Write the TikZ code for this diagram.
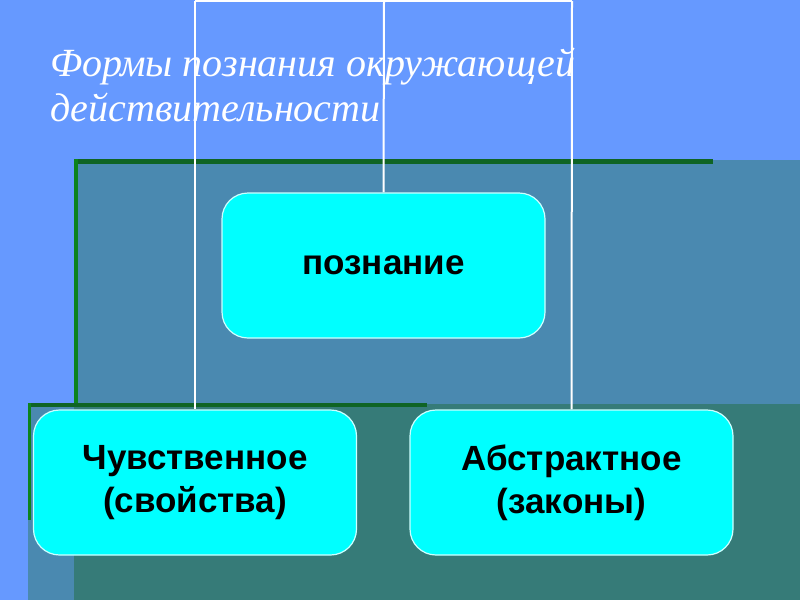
\documentclass[tikz,border=0pt]{standalone}
\usepackage{fontspec}
\setmainfont{Liberation Serif}
\newfontfamily\arialfont{Liberation Sans}
\usetikzlibrary{backgrounds}
\pgfdeclarelayer{bottom}
\pgfsetlayers{bottom,background,main}
\definecolor{bgblue}{HTML}{6699FF}
\definecolor{panelblue}{HTML}{4A89B0}
\definecolor{panelteal}{HTML}{367B78}
\definecolor{edgegreen}{HTML}{0F6424}
\definecolor{boxcyan}{HTML}{00FFFF}
\definecolor{boxedge}{HTML}{CCFFFF}
\tikzset{
  orgbox/.style={draw=boxedge, line width=1.2pt, fill=boxcyan, rounded corners=26pt,
    minimum width=323pt, minimum height=145pt, align=center,
    font=\arialfont\bfseries\fontsize{35}{43}\selectfont, text=black},
  link/.style={draw=white, line width=2pt},
  titletext/.style={font=\itshape\fontsize{40}{48}\selectfont, text=white, inner sep=0pt, anchor=base west}
}
\begin{document}
\begin{tikzpicture}[x=1pt,y=-1pt]
\useasboundingbox (0,0) rectangle (800,600);
\begin{pgfonlayer}{bottom}
\fill[bgblue] (0,0) rectangle (800,600);
\fill[panelblue] (74,160) rectangle (800,600);
\fill[panelblue] (28,404) rectangle (74,600);
\fill[panelteal] (74,404) rectangle (800,600);
\fill[edgegreen] (74,159) rectangle (713,164);
\fill[edgegreen!80!green] (74,159) rectangle (78,404);
\fill[edgegreen] (28,403) rectangle (427,407);
\fill[edgegreen!80!green] (28,403) rectangle (31,520);
\end{pgfonlayer}
% title
\node[titletext] (title1) at (50,76) {Формы познания окружающей};
\node[titletext] (title2) at (50,121) {действительности};
% boxes
\coordinate (top) at (384,1);
\coordinate (tl) at (195,1);
\coordinate (tr) at (572,1);
\node[orgbox] (root) at (383.5,265.5) {познание};
\node[orgbox] (sens) at (195,482.5) {Чувственное\\(свойства)};
\node[orgbox] (abst) at (571.5,482.5) {Абстрактное\\(законы)};
% connectors
\begin{scope}[on background layer]
\draw[link] (tl) -- (tr);
\draw[link] (top) -- (root.north);
\draw[link] (tl) -- (sens.north);
\draw[link] (tr) -- (abst.north);
\end{scope}
\end{tikzpicture}
\end{document}
